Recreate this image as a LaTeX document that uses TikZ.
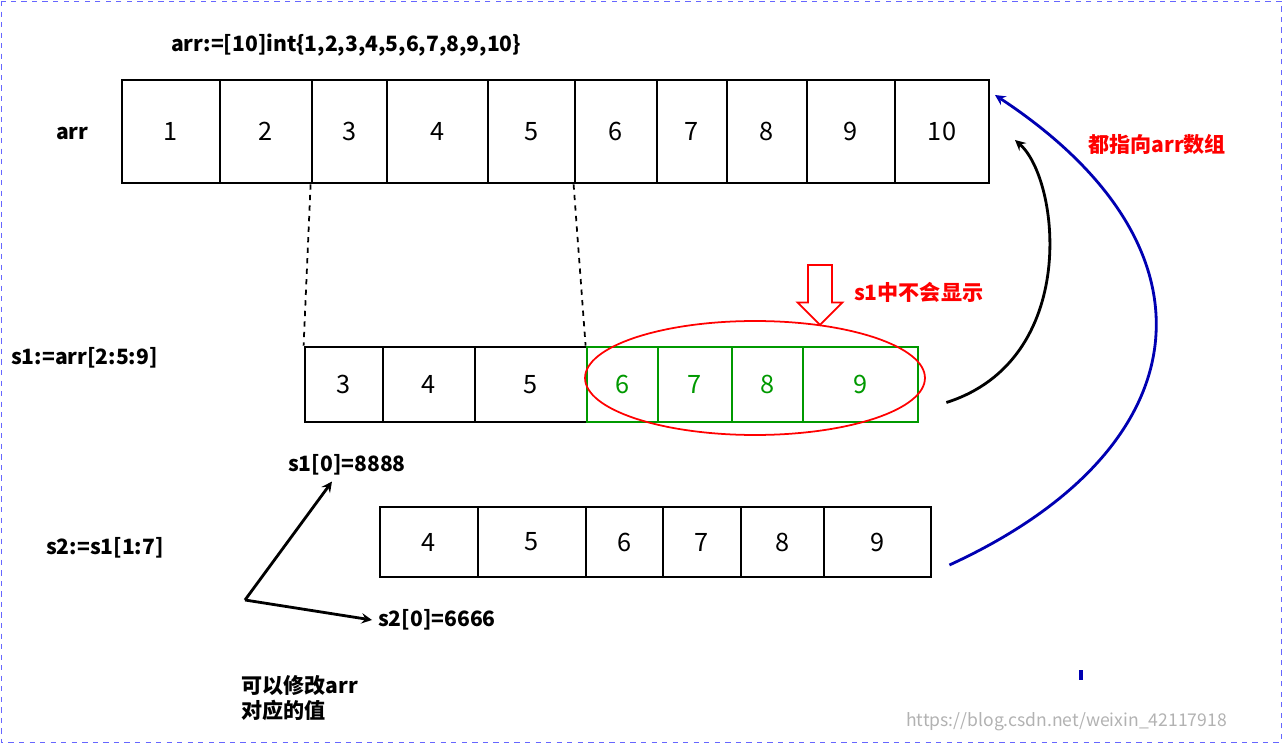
\documentclass[tikz,border=0pt]{standalone}
\usepackage{fontspec}
\setmainfont{Noto Sans CJK SC}
\usetikzlibrary{shapes.geometric, shapes.arrows, arrows}
\tikzstyle{cell} = [rectangle, draw=black, line width=1.6pt, inner sep=0pt, font=\Large]
\tikzstyle{gcell} = [rectangle, draw=green!60!black, line width=1.6pt, inner sep=0pt, text=green!60!black, font=\Large]
\tikzstyle{label} = [font=\large\bfseries, anchor=west]
\tikzstyle{arrow} = [line width=1.6pt,->,>=stealth]
\begin{document}
\begin{tikzpicture}[x=0.02cm, y=-0.02cm]
    \useasboundingbox (0,0) rectangle (1282,743);
    \draw[blue!60, dashed] (1,1) rectangle (1281,742);

    % arr
    \foreach \a/\b/\t [count=\i] in {122/220/1,220/312/2,312/387/3,387/488/4,488/575/5,575/657/6,657/727/7,727/807/8,807/895/9,895/989/10}
        \node (a\i) [cell, minimum width=(\b-\a)*0.02cm, minimum height=2.06cm] at ({(\a+\b)/2},131.5) {\t};

    % s1
    \foreach \a/\b/\t [count=\i] in {305/383/3,383/475/4,475/587/5}
        \node (s\i) [cell, minimum width=(\b-\a)*0.02cm, minimum height=1.5cm] at ({(\a+\b)/2},384.5) {\t};
    \foreach \a/\b/\t [count=\i from 4] in {587/658/6,658/732/7,732/803/8,803/918/9}
        \node (s\i) [gcell, minimum width=(\b-\a)*0.02cm, minimum height=1.5cm] at ({(\a+\b)/2},384.5) {\t};

    % s2
    \foreach \a/\b/\t [count=\i] in {380/478/4,478/586/5,586/663/6,663/741/7,741/824/8,824/931/9}
        \node (t\i) [cell, minimum width=(\b-\a)*0.02cm, minimum height=1.4cm] at ({(\a+\b)/2},542) {\t};

    \node (hide) [ellipse, draw=red, line width=1pt, minimum width=6.8cm, minimum height=2.28cm] at (755,378) {};

    % labels
    \node (def) [label] at (165,45) {arr:=[10]int\{1,2,3,4,5,6,7,8,9,10\}};
    \node (lbarr) [label] at (50,134) {arr};
    \node (lbs1) [label] at (5,358) {s1:=arr[2:5:9]};
    \node (lbs2) [label] at (40,548) {s2:=s1[1:7]};
    \node (set1) [label] at (282,465) {s1[0]=8888};
    \node (set2) [label] at (372,620) {s2[0]=6666};
    \node (note) [label, align=left] at (235,698) {可以修改arr\\对应的值};
    \node (noshow) [label, text=red] at (848,292) {s1中不会显示};
    \node (point) [label, text=red] at (1082,144) {都指向arr数组};
    \node (mark) [label, text=gray!60, font=\normalsize] at (900,722) {https://blog.csdn.net/weixin\_42117918};

    % connectors
    \draw [dashed, line width=1pt] (a3.south west) -- (s1.north west);
    \draw [dashed, line width=1pt] (a6.south west) -- (s4.north west);
    \node (down) [single arrow, shape border rotate=270, draw=red, line width=1pt, minimum height=1.2cm, minimum width=0.9cm, single arrow head extend=0.12cm] at (820,289) {};
    \coordinate (pivot) at (245,600);
    \draw [arrow] (pivot) -- ([xshift=1cm]set1.south west);
    \draw [arrow] (pivot) -- (set2.west);
    \draw [arrow, black] ([shift={(27,18)}]s7.east) .. controls (1080,360) and (1060,180) .. (1015,140);
    \draw [arrow, blue!70!black] ([shift={(17,23)}]t6.east) .. controls (1200,450) and (1230,250) .. (995,95);
    \fill[blue!70!black] (1079,670) rectangle (1083,680);
\end{tikzpicture}
\end{document}
